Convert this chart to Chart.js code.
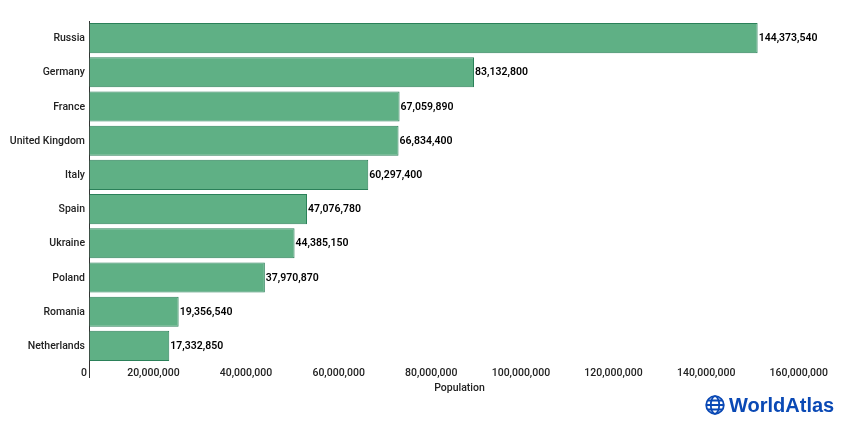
<!DOCTYPE html>
<html>
<head>
<meta charset="utf-8">
<title>Population</title>
<script src="https://cdn.jsdelivr.net/npm/chart.js@4"></script>
<style>
  html, body { margin: 0; padding: 0; background: #fff; }
  #wrap { position: relative; width: 845px; height: 422px; overflow: hidden; }
  #logo { position: absolute; left: 705px; top: 394px; display: flex; align-items: center; }
  #logo span { font: bold 20px "Liberation Sans", sans-serif; color: #0a49b5; margin-left: 4px; line-height: 22px; }
</style>
</head>
<body>
<div id="wrap">
  <canvas id="chart" width="845" height="422"></canvas>
  <div id="logo">
    <svg width="20" height="20" viewBox="0 0 20 20" fill="none" stroke="#0a49b5" stroke-width="1.8">
      <circle cx="10" cy="10" r="8.8"/>
      <ellipse cx="10" cy="10" rx="4.2" ry="8.8"/>
      <path d="M1.2 10H18.8M2.6 5.5H17.4M2.6 14.5H17.4"/>
    </svg>
    <span>WorldAtlas</span>
  </div>
</div>
<script>
const countries = ["Russia", "Germany", "France", "United Kingdom", "Italy", "Spain", "Ukraine", "Poland", "Romania", "Netherlands"];
const population = [144373540, 83132800, 67059890, 66834400, 60297400, 47076780, 44385150, 37970870, 19356540, 17332850];
const xTicks = [0, 20000000, 40000000, 60000000, 80000000, 100000000, 120000000, 140000000, 160000000];

// value written just past the end of each bar
const barLabels = {
  id: "barLabels",
  afterDatasetsDraw(chart) {
    const ctx = chart.ctx;
    ctx.save();
    ctx.font = "600 10.5px Roboto";
    ctx.fillStyle = "#000";
    ctx.textAlign = "left";
    ctx.textBaseline = "middle";
    chart.getDatasetMeta(0).data.forEach((bar, i) => {
      ctx.fillText(population[i].toLocaleString("en-US"), bar.x + 1, bar.y + 0.5);
    });
    ctx.restore();
  },
};

new Chart(document.getElementById("chart"), {
  type: "bar",
  data: {
    labels: countries,
    datasets: [
      {
        data: population,
        backgroundColor: "#5fb085",
        borderColor: "#2b8059",
        borderWidth: 1,
        categoryPercentage: 1,
        barPercentage: 0.88,
      },
    ],
  },
  options: {
    indexAxis: "y",
    responsive: false,
    animation: false,
    layout: { padding: { top: 21, right: 15, bottom: 27 } },
    plugins: { legend: { display: false }, tooltip: { enabled: false } },
    scales: {
      x: {
        min: 0,
        max: 160000000,
        afterBuildTicks: (scale) => {
          scale.ticks = xTicks.map((value) => ({ value }));
        },
        afterFit: (scale) => {
          scale.height = 32;
        },
        border: { display: false },
        grid: {
          drawOnChartArea: false,
          tickLength: 15,
          tickWidth: 1,
          tickColor: (c) => (c.tick && c.tick.value === 0 ? "#333" : "transparent"),
        },
        ticks: {
          align: "end",
          maxRotation: 0,
          padding: -11,
          labelOffset: -2,
          color: "#222",
          font: { family: "Roboto", size: 10.5, weight: "500" },
          callback: (value) => value.toLocaleString("en-US"),
        },
        title: {
          display: true,
          text: "Population",
          color: "#222",
          font: { family: "Roboto", size: 10.5, weight: "500" },
          padding: { top: 0, bottom: 0 },
        },
      },
      y: {
        afterFit: (scale) => {
          scale.width = 89;
        },
        border: { display: true, color: "#333", width: 1 },
        grid: { display: false, drawTicks: false },
        ticks: {
          padding: 4,
          labelOffset: 0.5,
          color: "#222",
          font: { family: "Roboto", size: 10.5, weight: "500" },
        },
      },
    },
  },
  plugins: [barLabels],
});
</script>
</body>
</html>
